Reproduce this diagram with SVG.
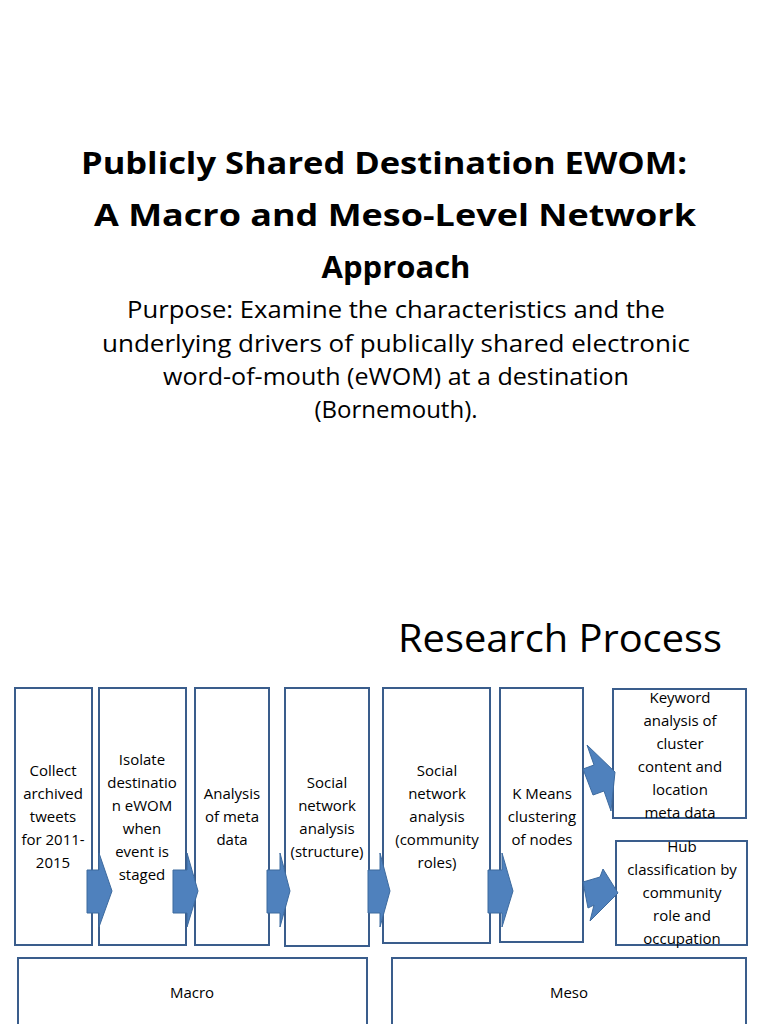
<svg xmlns="http://www.w3.org/2000/svg" width="768" height="1024" viewBox="0 0 768 1024">
<style>
.t{font-family:"Open Sans","Liberation Sans",Arial,sans-serif;fill:#000;text-anchor:middle}
.b{fill:#fff;stroke:#3a5d8c;stroke-width:2}
.s{font-size:15px}
.a{fill:#4f81bd;stroke:#3d6a9e;stroke-width:1}
</style>
<rect width="768" height="1024" fill="#fff"/>
<g id="title">
<text class="t" x="384" y="174" font-size="31" font-weight="bold" textLength="606" lengthAdjust="spacingAndGlyphs">Publicly Shared Destination EWOM:</text>
<text class="t" x="395" y="226" font-size="31" font-weight="bold" textLength="602" lengthAdjust="spacingAndGlyphs">A Macro and Meso-Level Network</text>
<text class="t" x="396" y="278" font-size="31" font-weight="bold">Approach</text>
<text class="t" x="396" y="318" font-size="24" textLength="538" lengthAdjust="spacingAndGlyphs">Purpose: Examine the characteristics and the</text>
<text class="t" x="396" y="352" font-size="24" textLength="588" lengthAdjust="spacingAndGlyphs">underlying drivers of publically shared electronic</text>
<text class="t" x="396" y="385" font-size="24" textLength="466" lengthAdjust="spacingAndGlyphs">word-of-mouth (eWOM) at a destination</text>
<text class="t" x="396" y="418" font-size="24">(Bornemouth).</text>
<text class="t" x="560" y="652" font-size="38" textLength="324" lengthAdjust="spacingAndGlyphs">Research Process</text>
</g>
<g id="n1"><rect class="b" x="15" y="688" width="77" height="257"/>
<text class="t s" x="53" y="776">Collect</text><text class="t s" x="53" y="799">archived</text><text class="t s" x="53" y="822">tweets</text><text class="t s" x="53" y="845">for 2011-</text><text class="t s" x="53" y="868">2015</text></g>
<g id="n2"><rect class="b" x="99" y="688" width="87" height="257"/>
<text class="t s" x="142" y="765">Isolate</text><text class="t s" x="142" y="788">destinatio</text><text class="t s" x="142" y="811">n eWOM</text><text class="t s" x="142" y="834">when</text><text class="t s" x="142" y="857">event is</text><text class="t s" x="142" y="880">staged</text></g>
<g id="n3"><rect class="b" x="195" y="688" width="74" height="257"/>
<text class="t s" x="232" y="799">Analysis</text><text class="t s" x="232" y="822">of meta</text><text class="t s" x="232" y="845">data</text></g>
<g id="n4"><rect class="b" x="285" y="688" width="84" height="258"/>
<text class="t s" x="327" y="788">Social</text><text class="t s" x="327" y="811">network</text><text class="t s" x="327" y="834">analysis</text><text class="t s" x="327" y="857">(structure)</text></g>
<g id="n5"><rect class="b" x="383" y="688" width="107" height="255"/>
<text class="t s" x="437" y="776">Social</text><text class="t s" x="437" y="799">network</text><text class="t s" x="437" y="822">analysis</text><text class="t s" x="437" y="845">(community</text><text class="t s" x="437" y="868">roles)</text></g>
<g id="n6"><rect class="b" x="500" y="688" width="83" height="254"/>
<text class="t s" x="542" y="799">K Means</text><text class="t s" x="542" y="822">clustering</text><text class="t s" x="542" y="845">of nodes</text></g>
<g id="n7"><rect class="b" x="613" y="689" width="133" height="129"/>
<text class="t s" x="680" y="703">Keyword</text><text class="t s" x="680" y="726">analysis of</text><text class="t s" x="680" y="749">cluster</text><text class="t s" x="680" y="772">content and</text><text class="t s" x="680" y="795">location</text><text class="t s" x="680" y="818">meta data</text></g>
<g id="n8"><rect class="b" x="616" y="841" width="131" height="104"/>
<text class="t s" x="682" y="852">Hub</text><text class="t s" x="682" y="875">classification by</text><text class="t s" x="682" y="898">community</text><text class="t s" x="682" y="921">role and</text><text class="t s" x="682" y="944">occupation</text></g>
<g id="macro"><rect class="b" x="18" y="958" width="349" height="80"/>
<text class="t s" x="192" y="998">Macro</text></g>
<g id="meso"><rect class="b" x="392" y="958" width="354" height="80"/>
<text class="t s" x="569" y="998">Meso</text></g>
<g id="connectors">
<polygon class="a" points="87,870 99,870 99,853 112,891 99,927 99,913 87,913"/>
<polygon class="a" points="173,870 187,870 187,853 198,891 187,927 187,913 173,913"/>
<polygon class="a" points="267,870 280,870 280,853 290,891 280,927 280,913 267,913"/>
<polygon class="a" points="368,870 380,870 380,853 390,891 380,927 380,913 368,913"/>
<polygon class="a" points="488,870 502,870 502,853 513,891 502,927 502,913 488,913"/>
<polygon class="a" points="583,769 594,765 587,745 615,772 611,811 604,791 593,795"/>
<polygon class="a" points="583,882 600,877 603,869 618,893 590,921 594,905 588,908"/>
</g>
</svg>
